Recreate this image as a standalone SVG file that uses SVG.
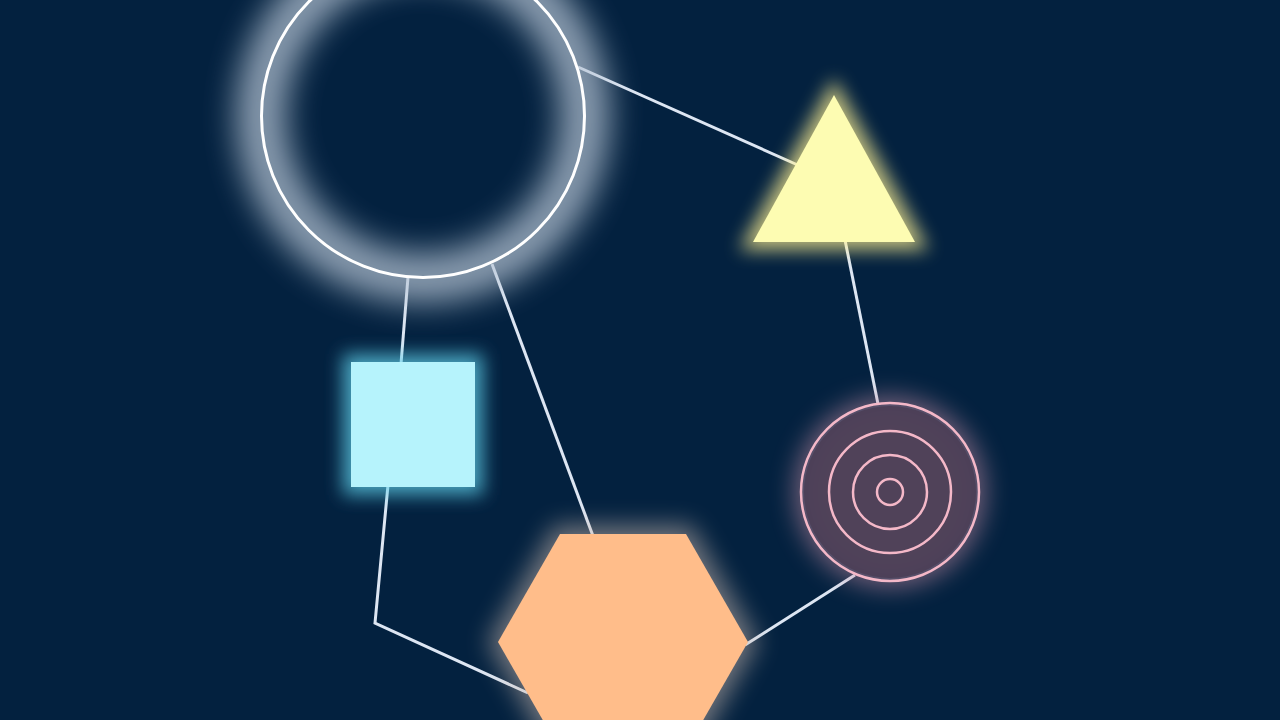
<svg xmlns="http://www.w3.org/2000/svg" width="1280" height="720" viewBox="0 0 1280 720">
<defs>
<filter id="blurL" x="-50%" y="-50%" width="200%" height="200%"><feGaussianBlur stdDeviation="16"/></filter>
<filter id="blurM" x="-50%" y="-50%" width="200%" height="200%"><feGaussianBlur stdDeviation="12"/></filter>
<filter id="blurS" x="-50%" y="-50%" width="200%" height="200%"><feGaussianBlur stdDeviation="9"/></filter>
</defs>
<style>
.edge{stroke:#dde6f3;stroke-width:3;fill:none;stroke-linejoin:miter}
.ring{fill:none;stroke:#f4b8c8;stroke-width:2.5}
</style>
<rect width="1280" height="720" fill="#03213f"/>
<g id="connectors">
<line class="edge" x1="578" y1="67" x2="800" y2="166"/>
<line class="edge" x1="845" y1="240" x2="878" y2="404"/>
<line class="edge" x1="855" y1="575" x2="745" y2="645"/>
<line class="edge" x1="492" y1="264" x2="593" y2="536"/>
<line class="edge" x1="408" y1="277" x2="401" y2="364"/>
<polyline class="edge" points="388,485 375,623 528,693"/>
</g>
<g id="node-circle">
<circle cx="423" cy="116" r="162" fill="none" stroke="#b8c6d6" stroke-width="50" opacity="0.75" filter="url(#blurL)"/>
<circle cx="423" cy="116" r="161.5" fill="none" stroke="#ffffff" stroke-width="3"/>
</g>
<g id="node-triangle">
<polygon points="834,95 753,242 915,242" fill="#fff39a" stroke="#fff090" stroke-width="16" opacity="0.75" filter="url(#blurS)"/>
<polygon points="834,95 753,242 915,242" fill="#fdfcb2"/>
</g>
<g id="node-square">
<rect x="351" y="362" width="124" height="125" fill="#6fdcf0" stroke="#5fd0ea" stroke-width="16" opacity="0.75" filter="url(#blurS)"/>
<rect x="351" y="362" width="124" height="125" fill="#b6f3fc"/>
</g>
<g id="node-target">
<circle cx="890" cy="492" r="96" fill="#c98ea4" opacity="0.55" filter="url(#blurM)"/>
<circle cx="890" cy="492" r="86" fill="#4a3d55" opacity="0.85"/>
<circle class="ring" cx="890" cy="492" r="89"/>
<circle class="ring" cx="890" cy="492" r="61"/>
<circle class="ring" cx="890" cy="492" r="37"/>
<circle class="ring" cx="890" cy="492" r="13"/>
</g>
<g id="node-hexagon">
<polygon points="560,534 686,534 748,642 686,750 560,750 498,642" fill="#d9c3b4" stroke="#c9b7ad" stroke-width="18" opacity="0.55" filter="url(#blurM)"/>
<polygon points="560,534 686,534 748,642 686,750 560,750 498,642" fill="#ffbd8a"/>
</g>
</svg>
